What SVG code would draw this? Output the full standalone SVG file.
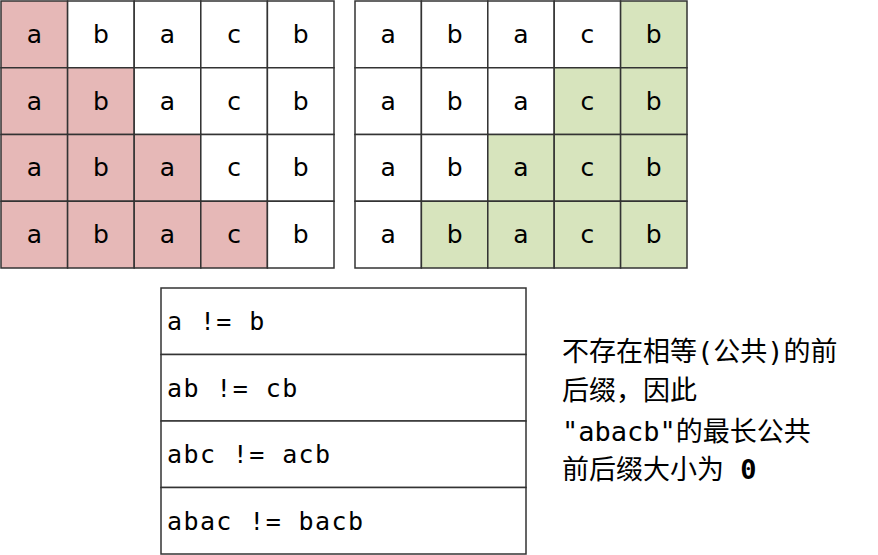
<svg xmlns="http://www.w3.org/2000/svg" width="878" height="555" viewBox="0 0 878 555">
<style>
.c{stroke:#333;stroke-width:1.5;fill:#fff}
.p{fill:#e6b8b7}
.g{fill:#d7e4bd}
.t{font-family:"DejaVu Sans","Liberation Sans",sans-serif;font-size:25px;fill:#000;text-anchor:middle;dominant-baseline:central}
.m{font-family:"DejaVu Sans Mono","Liberation Mono",monospace;font-size:25px;letter-spacing:1.4px;fill:#000}
.z{font-family:"DejaVu Sans Mono","Noto Sans CJK SC",monospace;font-size:27px;fill:#000}
</style>
<rect width="878" height="555" fill="#fff"/>
<g id="left-grid">
<rect class="c p" x="1" y="1" width="66.6" height="66.75"/><rect class="c" x="67.6" y="1" width="66.6" height="66.75"/><rect class="c" x="134.2" y="1" width="66.6" height="66.75"/><rect class="c" x="200.8" y="1" width="66.6" height="66.75"/><rect class="c" x="267.4" y="1" width="66.6" height="66.75"/>
<rect class="c p" x="1" y="67.75" width="66.6" height="66.75"/><rect class="c p" x="67.6" y="67.75" width="66.6" height="66.75"/><rect class="c" x="134.2" y="67.75" width="66.6" height="66.75"/><rect class="c" x="200.8" y="67.75" width="66.6" height="66.75"/><rect class="c" x="267.4" y="67.75" width="66.6" height="66.75"/>
<rect class="c p" x="1" y="134.5" width="66.6" height="66.75"/><rect class="c p" x="67.6" y="134.5" width="66.6" height="66.75"/><rect class="c p" x="134.2" y="134.5" width="66.6" height="66.75"/><rect class="c" x="200.8" y="134.5" width="66.6" height="66.75"/><rect class="c" x="267.4" y="134.5" width="66.6" height="66.75"/>
<rect class="c p" x="1" y="201.25" width="66.6" height="66.75"/><rect class="c p" x="67.6" y="201.25" width="66.6" height="66.75"/><rect class="c p" x="134.2" y="201.25" width="66.6" height="66.75"/><rect class="c p" x="200.8" y="201.25" width="66.6" height="66.75"/><rect class="c" x="267.4" y="201.25" width="66.6" height="66.75"/>
<text class="t" x="34.3" y="34.4">a</text><text class="t" x="100.9" y="34.4">b</text><text class="t" x="167.5" y="34.4">a</text><text class="t" x="234.1" y="34.4">c</text><text class="t" x="300.7" y="34.4">b</text>
<text class="t" x="34.3" y="101.1">a</text><text class="t" x="100.9" y="101.1">b</text><text class="t" x="167.5" y="101.1">a</text><text class="t" x="234.1" y="101.1">c</text><text class="t" x="300.7" y="101.1">b</text>
<text class="t" x="34.3" y="167.9">a</text><text class="t" x="100.9" y="167.9">b</text><text class="t" x="167.5" y="167.9">a</text><text class="t" x="234.1" y="167.9">c</text><text class="t" x="300.7" y="167.9">b</text>
<text class="t" x="34.3" y="234.6">a</text><text class="t" x="100.9" y="234.6">b</text><text class="t" x="167.5" y="234.6">a</text><text class="t" x="234.1" y="234.6">c</text><text class="t" x="300.7" y="234.6">b</text>
</g>
<g id="right-grid">
<rect class="c" x="355" y="1" width="66.4" height="66.75"/><rect class="c" x="421.4" y="1" width="66.4" height="66.75"/><rect class="c" x="487.8" y="1" width="66.4" height="66.75"/><rect class="c" x="554.2" y="1" width="66.4" height="66.75"/><rect class="c g" x="620.6" y="1" width="66.4" height="66.75"/>
<rect class="c" x="355" y="67.75" width="66.4" height="66.75"/><rect class="c" x="421.4" y="67.75" width="66.4" height="66.75"/><rect class="c" x="487.8" y="67.75" width="66.4" height="66.75"/><rect class="c g" x="554.2" y="67.75" width="66.4" height="66.75"/><rect class="c g" x="620.6" y="67.75" width="66.4" height="66.75"/>
<rect class="c" x="355" y="134.5" width="66.4" height="66.75"/><rect class="c" x="421.4" y="134.5" width="66.4" height="66.75"/><rect class="c g" x="487.8" y="134.5" width="66.4" height="66.75"/><rect class="c g" x="554.2" y="134.5" width="66.4" height="66.75"/><rect class="c g" x="620.6" y="134.5" width="66.4" height="66.75"/>
<rect class="c" x="355" y="201.25" width="66.4" height="66.75"/><rect class="c g" x="421.4" y="201.25" width="66.4" height="66.75"/><rect class="c g" x="487.8" y="201.25" width="66.4" height="66.75"/><rect class="c g" x="554.2" y="201.25" width="66.4" height="66.75"/><rect class="c g" x="620.6" y="201.25" width="66.4" height="66.75"/>
<text class="t" x="388.2" y="34.4">a</text><text class="t" x="454.6" y="34.4">b</text><text class="t" x="521" y="34.4">a</text><text class="t" x="587.4" y="34.4">c</text><text class="t" x="653.8" y="34.4">b</text>
<text class="t" x="388.2" y="101.1">a</text><text class="t" x="454.6" y="101.1">b</text><text class="t" x="521" y="101.1">a</text><text class="t" x="587.4" y="101.1">c</text><text class="t" x="653.8" y="101.1">b</text>
<text class="t" x="388.2" y="167.9">a</text><text class="t" x="454.6" y="167.9">b</text><text class="t" x="521" y="167.9">a</text><text class="t" x="587.4" y="167.9">c</text><text class="t" x="653.8" y="167.9">b</text>
<text class="t" x="388.2" y="234.6">a</text><text class="t" x="454.6" y="234.6">b</text><text class="t" x="521" y="234.6">a</text><text class="t" x="587.4" y="234.6">c</text><text class="t" x="653.8" y="234.6">b</text>
</g>
<g id="compare-table">
<rect class="c" x="161" y="288" width="365" height="66.5"/>
<rect class="c" x="161" y="354.5" width="365" height="66.5"/>
<rect class="c" x="161" y="421" width="365" height="66.5"/>
<rect class="c" x="161" y="487.5" width="365" height="66.5"/>
<text class="m" x="167" y="330">a != b</text>
<text class="m" x="167" y="397">ab != cb</text>
<text class="m" x="167" y="463">abc != acb</text>
<text class="m" x="167" y="530">abac != bacb</text>
</g>
<g id="note">
<text class="z" x="562" y="361">不存在相等(公共)的前</text>
<text class="z" x="562" y="400">后缀，因此</text>
<text class="z" x="562" y="441">"abacb"的最长公共</text>
<text class="z" x="562" y="479">前后缀大小为 <tspan font-weight="bold">0</tspan></text>
</g>
</svg>
